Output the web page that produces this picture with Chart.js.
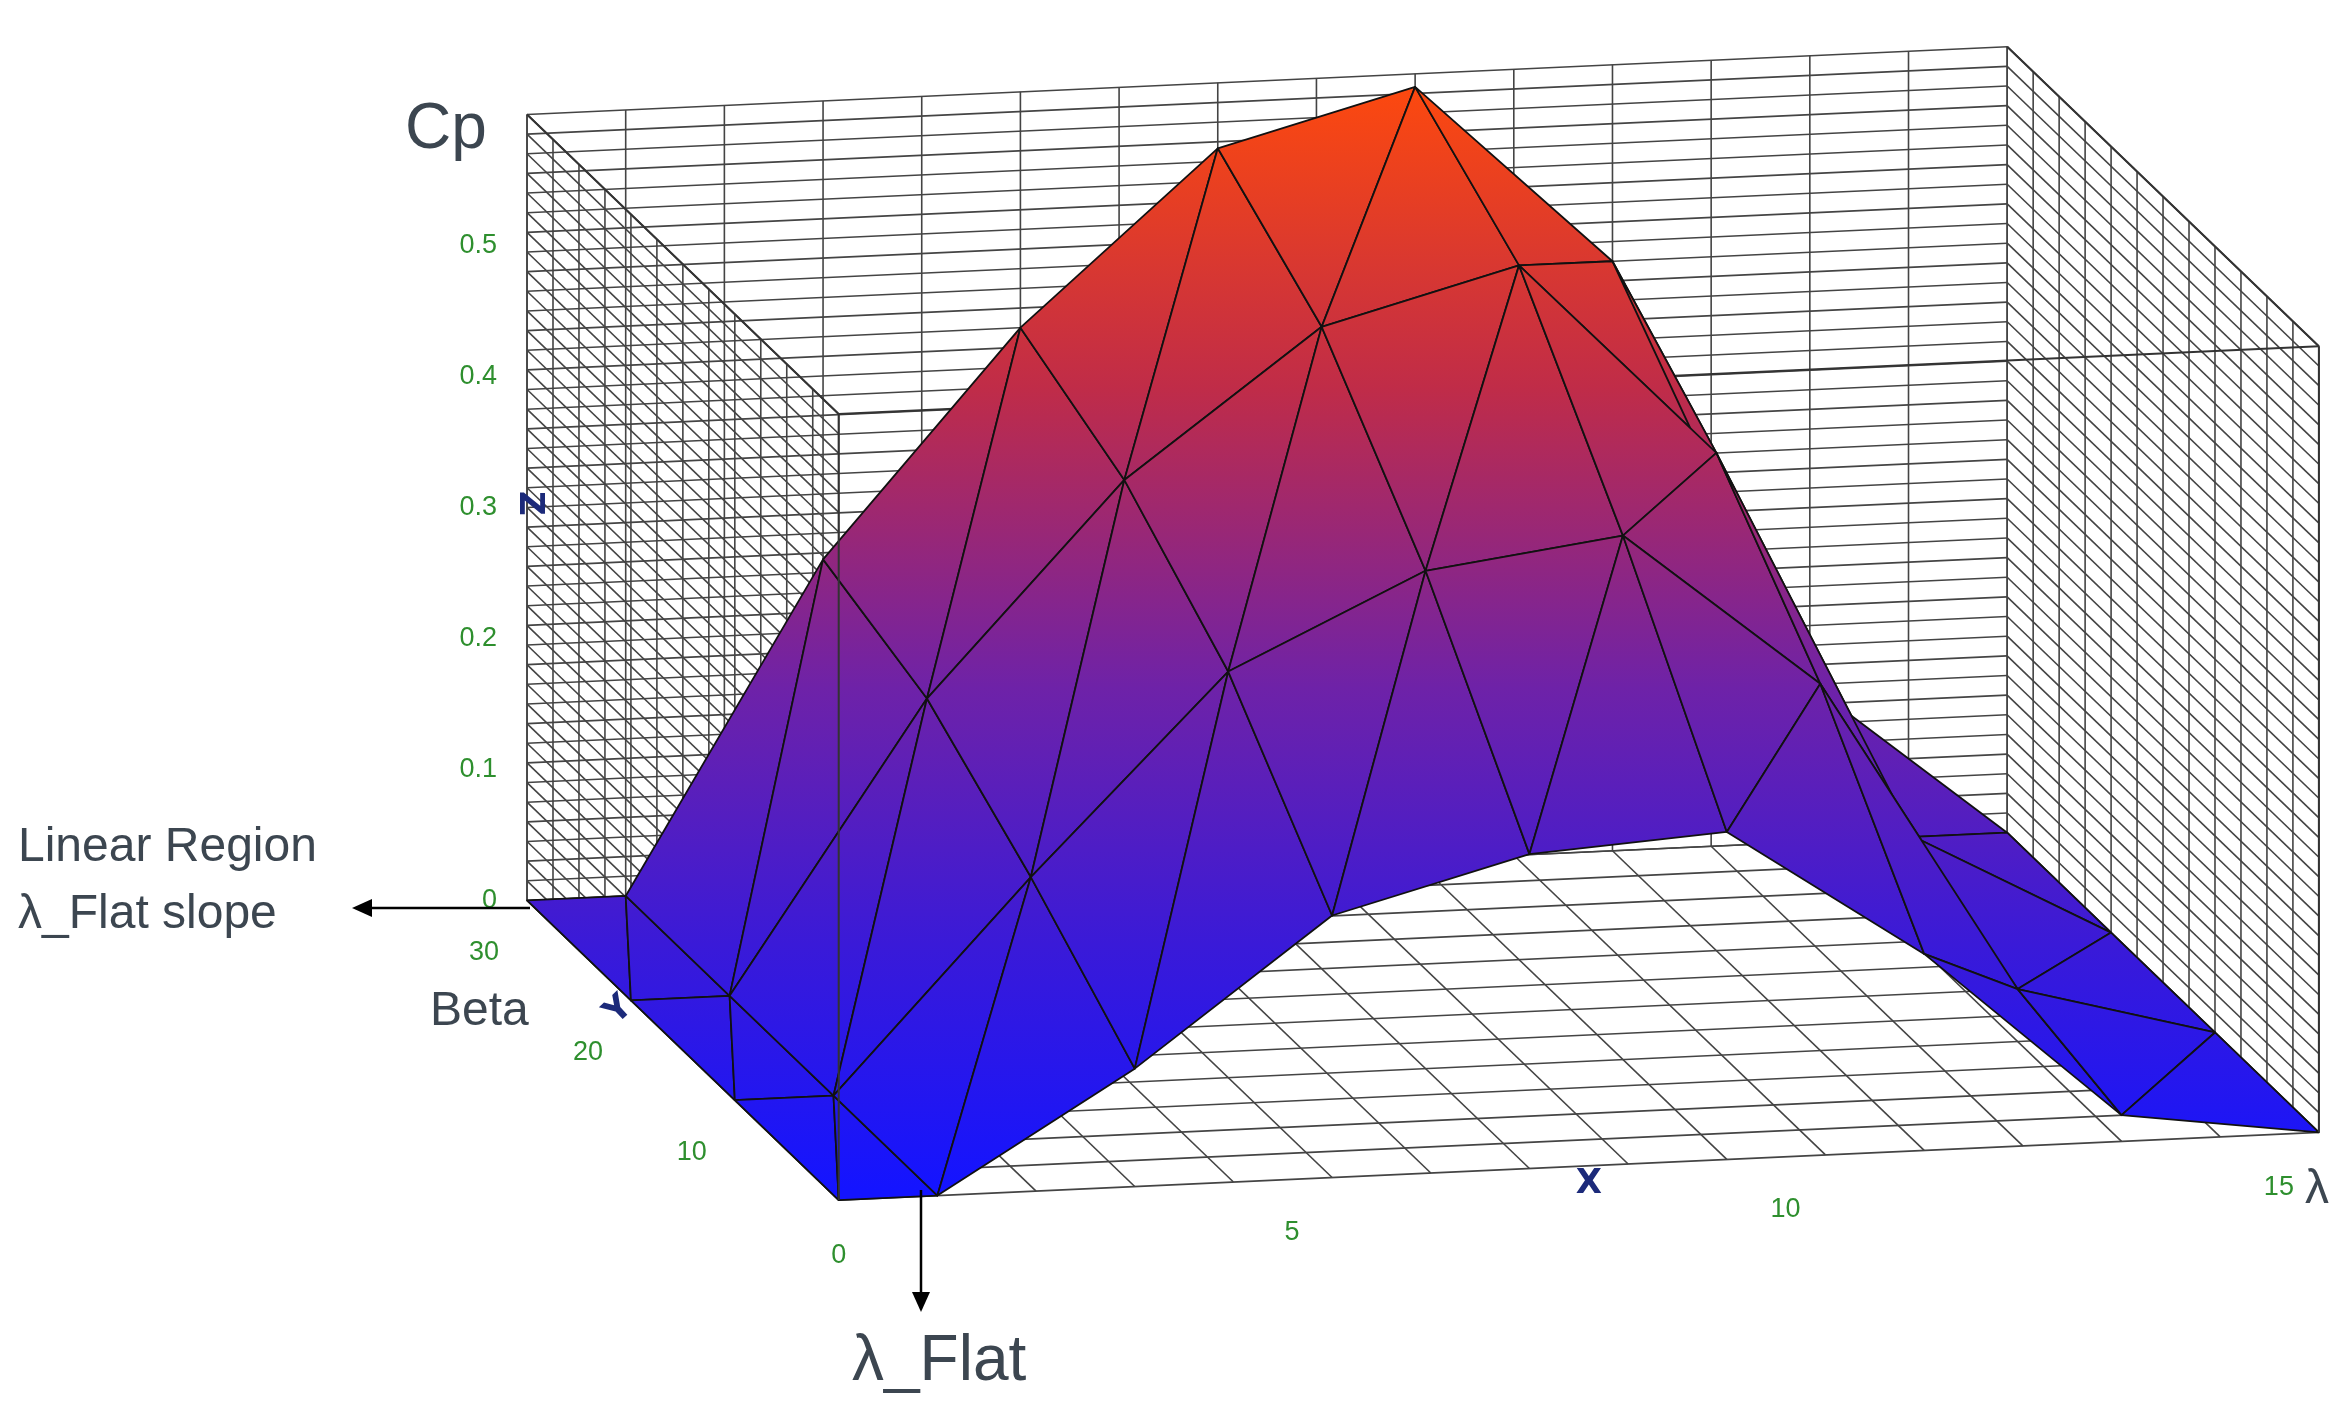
<!DOCTYPE html>
<html><head><meta charset="utf-8">
<script src="https://cdn.jsdelivr.net/npm/chart.js@4/dist/chart.umd.min.js"></script>
<style>html,body{margin:0;padding:0;background:#fff}#wrap{width:2349px;height:1419px}</style>
</head><body><div id="wrap"><canvas id="c"></canvas></div>
<script>
// ---- data ----
const lambdaNodes = [0, 1, 3, 5, 7, 9, 11, 13, 15];
const betaNodes = [0, 10, 20, 30];
const cpBeta0  = [0, 0.00, 0.09, 0.20, 0.24, 0.25, 0.15, 0.02, 0];
const cpBeta10 = [0, 0.00, 0.16, 0.31, 0.38, 0.40, 0.28, 0.04, 0];
const cpBeta20 = [0, 0.00, 0.22, 0.38, 0.49, 0.53, 0.38, 0.08, 0];
const cpBeta30 = [0, 0.00, 0.25, 0.42, 0.55, 0.59, 0.45, 0.12, 0];
const zTicks = [0, 0.1, 0.2, 0.3, 0.4, 0.5];
const betaTicks = [10, 20, 30];
const lambdaTicks = [0, 5, 10, 15];
const cpRows = [cpBeta0, cpBeta10, cpBeta20, cpBeta30];

const S = 2349 / 1560;
const LMAX = 15, BMAX = 30, ZMAX = 0.6;
function proj(l, b, z) {
  return { x: S * (557 + 983 * l / LMAX - 207 * b / BMAX), y: S * (797 - 45 * l / LMAX - 199 * b / BMAX - 522 * z / ZMAX) };
}

const surfacePlugin = {
  id: 'surface',
  afterDatasetsDraw(chart) {
    const ctx = chart.ctx, xs = chart.scales.x, ys = chart.scales.y;
    const P = (l, b, z) => { const p = proj(l, b, z); return [xs.getPixelForValue(p.x), ys.getPixelForValue(p.y)]; };
    const line = (a, c) => { ctx.beginPath(); ctx.moveTo(a[0], a[1]); ctx.lineTo(c[0], c[1]); ctx.stroke(); };
    ctx.save();
    // grid box
    ctx.strokeStyle = '#444'; ctx.lineWidth = 1.6;
    const nz = 40, zStep = ZMAX / nz;
    for (let i = 0; i <= nz; i++) { const z = i * zStep;
      line(P(0, BMAX, z), P(LMAX, BMAX, z));
      line(P(0, 0, z), P(0, BMAX, z));
      line(P(LMAX, 0, z), P(LMAX, BMAX, z)); }
    for (let l = 0; l <= LMAX; l++) { line(P(l, BMAX, 0), P(l, BMAX, ZMAX)); line(P(l, 0, 0), P(l, BMAX, 0)); }
    for (let b = 0; b <= BMAX; b += 2.5) { line(P(0, b, 0), P(0, b, ZMAX)); line(P(LMAX, b, 0), P(LMAX, b, ZMAX)); line(P(0, b, 0), P(LMAX, b, 0)); }
    ctx.strokeStyle = '#333'; ctx.lineWidth = 2;
    line(P(0, 0, ZMAX), P(LMAX, 0, ZMAX));
    line(P(0, 0, ZMAX), P(0, BMAX, ZMAX));
    line(P(LMAX, 0, ZMAX), P(LMAX, BMAX, ZMAX));
    // surface
    const g = ctx.createLinearGradient(0, ys.getPixelForValue(S * 50), 0, ys.getPixelForValue(S * 790));
    g.addColorStop(0, '#ff4a0c'); g.addColorStop(0.28, '#c02c48'); g.addColorStop(0.55, '#6e22a8');
    g.addColorStop(0.78, '#3a1ad8'); g.addColorStop(1, '#1414ff');
    ctx.fillStyle = g; ctx.strokeStyle = '#111'; ctx.lineWidth = 1.8; ctx.lineJoin = 'round';
    const tri = (a, b, c) => { ctx.beginPath(); ctx.moveTo(a[0], a[1]); ctx.lineTo(b[0], b[1]); ctx.lineTo(c[0], c[1]); ctx.closePath(); ctx.fill(); ctx.stroke(); };
    for (let j = betaNodes.length - 2; j >= 0; j--) {
      for (let i = 0; i < lambdaNodes.length - 1; i++) {
        const A = P(lambdaNodes[i], betaNodes[j], cpRows[j][i]);
        const B = P(lambdaNodes[i + 1], betaNodes[j], cpRows[j][i + 1]);
        const C = P(lambdaNodes[i + 1], betaNodes[j + 1], cpRows[j + 1][i + 1]);
        const D = P(lambdaNodes[i], betaNodes[j + 1], cpRows[j + 1][i]);
        tri(D, C, A); tri(A, C, B);
      }
    }
    ctx.strokeStyle = '#333'; ctx.lineWidth = 2;
    line(P(0, 0, 0), P(0, 0, ZMAX));
    line(P(LMAX, 0, 0), P(LMAX, 0, ZMAX));
    // tick labels
    ctx.fillStyle = '#2e8f2e'; ctx.font = '27px "Liberation Sans"'; ctx.textBaseline = 'middle';
    ctx.textAlign = 'right';
    zTicks.forEach(z => { const p = P(0, BMAX, z); ctx.fillText(String(z), p[0] - 30, p[1]); });
    betaTicks.forEach(b => { const p = P(0, b, 0); ctx.fillText(String(b), p[0] - 28, p[1] + 52); });
    ctx.textAlign = 'center';
    lambdaTicks.forEach(l => { const p = P(l, 0, 0); ctx.fillText(String(l), p[0] + (l === 0 ? 0 : -40), p[1] + 55); });
    // axis letters
    ctx.fillStyle = '#1c2a7a'; ctx.font = 'bold 34px "DejaVu Sans"';
    let p = P(7.5, 0, 0); ctx.fillText('X', p[0] + 10, p[1] + 18);
    p = P(0, 20, 0); ctx.save(); ctx.translate(p[0] - 12, p[1] + 10); ctx.rotate(-0.75); ctx.fillText('Y', 0, 0); ctx.restore();
    p = P(0, BMAX, 0.3); ctx.save(); ctx.translate(p[0] + 2, p[1] - 4); ctx.rotate(Math.PI / 2); ctx.fillText('Z', 0, 0); ctx.restore();
    // annotations
    ctx.fillStyle = '#3c4650'; ctx.textAlign = 'left';
    ctx.font = '64px "Liberation Sans"'; ctx.fillText('Cp', 405, 130);
    ctx.font = '48px "Liberation Sans"';
    ctx.fillText('Linear Region', 18, 848); ctx.fillText('λ_Flat slope', 18, 915);
    ctx.fillText('Beta', 430, 1012);
    ctx.fillText('λ', 2305, 1190);
    ctx.font = '64px "Liberation Sans"'; ctx.fillText('λ_Flat', 852, 1362);
    ctx.strokeStyle = '#000'; ctx.fillStyle = '#000'; ctx.lineWidth = 2.5;
    line([530, 908], [365, 908]);
    ctx.beginPath(); ctx.moveTo(352, 908); ctx.lineTo(372, 899); ctx.lineTo(372, 917); ctx.fill();
    line([921, 1190], [921, 1298]);
    ctx.beginPath(); ctx.moveTo(921, 1312); ctx.lineTo(912, 1292); ctx.lineTo(930, 1292); ctx.fill();
    ctx.restore();
  }
};

new Chart(document.getElementById('c'), {
  type: 'scatter',
  data: { datasets: [{ data: [], pointRadius: 0 }] },
  options: {
    responsive: true, maintainAspectRatio: false, animation: false,
    layout: { padding: 0 },
    plugins: { legend: { display: false }, tooltip: { enabled: false } },
    scales: {
      x: { type: 'linear', min: 0, max: 2349, display: false },
      y: { type: 'linear', min: 0, max: 1419, reverse: true, display: false }
    }
  },
  plugins: [surfacePlugin]
});
</script></body></html>
